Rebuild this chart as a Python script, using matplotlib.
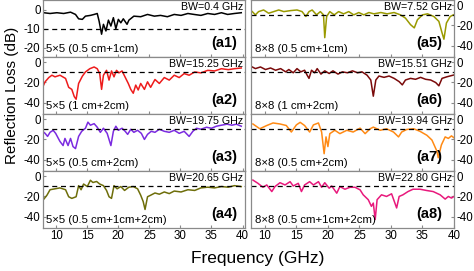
import matplotlib
matplotlib.use('Agg')
import matplotlib.pyplot as plt

plt.rcParams['font.family'] = ['Liberation Sans', 'DejaVu Sans']

# reflection loss curves (frequency in GHz, RL in dB)
a1_freq = [8.0, 9.0, 10.1, 11.2, 12.3, 13.1, 13.6, 14.2, 14.7, 15.5, 16.1, 16.6, 16.9, 17.3, 17.6, 18.0,
           18.4, 18.8, 19.2, 19.6, 20.0, 20.4, 20.8, 21.4, 21.7, 22.5, 23.6, 24.7, 25.8, 26.8, 27.9, 29.0,
           30.1, 31.2, 32.2, 33.3, 34.4, 35.5, 36.6, 37.6, 38.7, 39.8]
a1_rl = [-1.7, -2.1, -1.7, -2.1, -1.4, -2.6, -4.9, -5.2, -3.5, -3.1, -2.6, -2.1, -6.1, -13.0, -7.8, -11.3,
         -5.6, -8.7, -4.3, -10.1, -5.2, -7.0, -4.9, -7.8, -5.6, -3.5, -3.8, -2.6, -3.5, -3.1, -3.8, -2.6,
         -3.1, -2.1, -2.6, -3.1, -2.1, -2.6, -1.7, -2.6, -2.1, -1.7]

a2_freq = [7.8, 8.2, 8.8, 9.3, 9.8, 10.6, 11.5, 12.0, 12.5, 12.9, 13.2, 13.6, 14.2, 14.7, 15.4, 16.1,
           16.6, 17.0, 17.3, 17.6, 18.1, 18.5, 18.9, 19.3, 19.7, 20.1, 20.6, 21.2, 21.6, 22.0, 22.4, 22.8,
           23.2, 23.6, 24.2, 24.7, 25.2, 25.9, 26.6, 27.4, 28.2, 29.0, 29.8, 30.6, 31.4, 32.3, 33.3, 34.4,
           35.5, 36.6, 37.7, 38.7, 39.8]
a2_rl = [-24.8, -19.4, -15.2, -12.9, -14.5, -12.9, -16.1, -24.8, -26.8, -33.9, -36.5, -21.0, -13.9, -9.7,
         -6.5, -4.8, -6.5, -11.3, -26.8, -12.9, -8.1, -17.7, -8.7, -14.5, -8.1, -10.6, -8.7, -16.1, -21.0,
         -26.8, -30.6, -22.6, -27.4, -21.0, -26.8, -19.4, -24.8, -17.1, -21.0, -15.2, -17.7, -12.9, -15.2,
         -11.3, -12.9, -9.7, -10.6, -8.1, -8.7, -6.5, -7.4, -6.5, -5.8]

a3_freq = [7.8, 8.2, 8.6, 9.0, 9.5, 9.9, 10.6, 11.1, 11.4, 11.9, 12.3, 12.7, 13.1, 13.6, 14.1, 14.7, 15.1,
           15.5, 16.1, 16.6, 17.1, 17.6, 18.2, 18.8, 19.2, 19.6, 20.0, 20.6, 21.1, 21.5, 22.0, 22.5, 23.1,
           23.7, 24.2, 24.7, 25.3, 25.9, 26.6, 27.4, 28.2, 29.0, 29.8, 30.6, 31.4, 32.0, 32.6, 33.3, 34.2,
           35.0, 35.8, 36.6, 37.5, 38.3, 39.0, 39.8]
a3_rl = [-12, -14, -17, -13, -11, -14, -22, -26, -19, -26, -19, -27, -29, -17, -12, -9, -3, -6, -4.5, -8,
         -13, -9, -14, -26, -12, -7, -11, -9, -12, -15, -10, -13, -11, -14, -20, -15, -12, -13, -10, -12,
         -13, -11, -14, -12, -17, -12, -9, -10, -8, -9, -7, -6, -5, -6, -5, -7]

a4_freq = [7.9, 8.5, 9.0, 9.8, 10.6, 11.5, 12.0, 12.5, 13.2, 13.6, 14.0, 14.4, 15.0, 15.5, 15.9, 16.5,
           17.0, 17.6, 18.1, 18.5, 18.9, 19.3, 19.8, 20.4, 21.0, 21.7, 22.4, 23.1, 23.6, 24.0, 24.3, 24.7,
           25.2, 25.9, 26.6, 27.4, 28.2, 29.0, 30.1, 31.2, 32.3, 33.3, 34.4, 35.5, 36.6, 37.7, 38.7, 39.8]
a4_rl = [-23.4, -18.8, -13.4, -12.5, -11.6, -13.4, -20.3, -21.9, -20.3, -9.4, -13.4, -7.8, -10.3, -4.1,
         -6.3, -5.3, -7.8, -9.4, -14.1, -20.3, -21.9, -9.4, -12.5, -10.3, -14.1, -10.9, -10.3, -12.5, -18.8,
         -25.0, -32.8, -20.3, -18.8, -16.6, -17.8, -15.6, -17.2, -14.7, -15.6, -13.4, -14.1, -11.6, -10.9,
         -11.6, -10.3, -10.9, -9.4, -10.3]

a5_freq = [8.0, 8.5, 9.0, 9.8, 10.6, 11.4, 12.2, 13.0, 14.1, 15.1, 15.9, 16.5, 17.0, 17.5, 18.2, 18.8,
           19.3, 19.5, 19.8, 20.3, 21.0, 21.7, 22.5, 23.3, 24.1, 24.9, 25.7, 26.5, 27.3, 28.4, 29.4, 30.5,
           31.5, 32.3, 33.1, 33.7, 34.2, 35.0, 35.8, 36.8, 37.6, 38.1, 38.4, 38.8, 39.4, 39.9]
a5_rl = [-6.4, -9.6, -6.4, -4.8, -8.0, -6.4, -4.8, -6.4, -5.4, -4.8, -6.4, -11.2, -6.4, -4.8, -9.6, -6.4,
         -9.6, -32.0, -11.2, -6.4, -9.6, -6.4, -8.6, -6.4, -9.6, -7.3, -9.6, -7.3, -8.6, -7.3, -8.6, -7.3,
         -9.6, -12.8, -19.2, -22.4, -14.4, -9.6, -8.6, -11.2, -16.0, -27.2, -33.5, -17.6, -11.2, -9.6]

a6_freq = [8.0, 8.5, 9.3, 10.1, 10.9, 11.7, 12.5, 13.3, 13.8, 14.5, 15.1, 15.7, 16.3, 16.7, 17.0, 17.4,
           17.9, 18.3, 18.9, 19.5, 20.2, 20.8, 21.6, 22.3, 23.1, 23.9, 24.7, 25.4, 26.2, 26.8, 27.2, 27.6,
           28.1, 28.9, 29.7, 30.5, 31.3, 31.8, 32.3, 33.1, 33.9, 34.7, 35.5, 36.3, 37.1, 37.6, 38.1, 38.9,
           39.9]
a6_rl = [-4.8, -6.4, -4.8, -7.3, -5.8, -8.0, -6.4, -9.6, -7.3, -10.5, -6.4, -9.6, -8.0, -12.8, -16.0, -8.0,
         -10.5, -6.4, -11.8, -8.6, -11.2, -8.6, -11.8, -9.6, -10.5, -8.6, -10.5, -9.6, -12.8, -17.6, -33.5,
         -17.6, -13.7, -15.0, -13.7, -16.0, -19.2, -22.4, -17.6, -16.0, -16.9, -15.0, -16.9, -17.6, -20.1,
         -23.3, -16.0, -14.4, -12.8]

a7_freq = [8.1, 9.2, 10.3, 11.3, 12.4, 13.4, 14.2, 15.0, 15.6, 16.3, 17.1, 17.7, 18.5, 19.0, 19.4, 19.7,
           20.0, 20.3, 21.1, 21.9, 23.0, 24.0, 25.1, 25.9, 26.7, 27.2, 28.3, 29.3, 30.4, 31.2, 31.7, 32.5,
           33.6, 34.6, 35.7, 36.5, 37.3, 37.5, 38.0, 38.6, 39.1, 39.6, 40.0]
a7_rl = [-4.8, -9.5, -6.3, -3.8, -4.8, -6.3, -12.7, -5.7, -3.2, -6.3, -12.7, -5.7, -3.8, -12.7, -34.0,
         -17.5, -27.0, -14.3, -11.0, -14.3, -11.0, -12.7, -8.9, -14.3, -9.5, -7.9, -11.0, -9.5, -12.7, -17.5,
         -12.7, -10.2, -9.5, -12.0, -15.9, -20.6, -31.7, -38.0, -25.4, -17.5, -19.0, -16.5, -18.4]

a8_freq = [8.1, 8.9, 9.7, 10.3, 11.1, 11.6, 12.4, 13.2, 14.0, 14.5, 15.3, 15.8, 16.3, 17.1, 17.7, 18.5,
           19.0, 19.5, 20.2, 20.6, 21.4, 21.9, 22.7, 23.5, 24.3, 25.1, 25.6, 26.4, 26.9, 27.2, 27.5, 27.8,
           28.5, 29.3, 30.1, 30.9, 31.3, 31.9, 32.7, 33.5, 34.6, 35.7, 36.7, 37.8, 38.6, 39.1, 39.6, 40.0]
a8_rl = [-3.9, -7.1, -11.0, -8.7, -15.2, -10.3, -6.5, -8.7, -5.5, -9.7, -7.1, -15.2, -8.7, -5.5, -8.7, -5.5,
         -11.0, -6.5, -11.9, -9.7, -16.8, -10.3, -12.9, -11.0, -11.0, -13.5, -18.4, -23.2, -29.7, -26.5,
         -42.6, -23.2, -18.4, -20.0, -17.4, -31.3, -20.0, -18.4, -15.2, -12.9, -12.9, -14.2, -15.2, -18.4,
         -22.6, -20.0, -21.6, -20.0]

freqs = [a1_freq, a2_freq, a3_freq, a4_freq, a5_freq, a6_freq, a7_freq, a8_freq]
rls = [a1_rl, a2_rl, a3_rl, a4_rl, a5_rl, a6_rl, a7_rl, a8_rl]
colors = ['black', '#ee1c1c', '#7b2be0', '#6e6e0a', '#9a9a00', '#7a0a0a', '#ff8a14', '#e8197c']
labels = ['(a1)', '(a2)', '(a3)', '(a4)', '(a5)', '(a6)', '(a7)', '(a8)']
bw_text = ['BW=0.4 GHz', 'BW=15.25 GHz', 'BW=19.75 GHz', 'BW=20.65 GHz',
           'BW=7.52 GHz', 'BW=15.51 GHz', 'BW=19.94 GHz', 'BW=22.80 GHz']
samples = ['5×5 (0.5 cm+1cm)', '5×5 (1 cm+2cm)', '5×5 (0.5 cm+2cm)', '5×5 (0.5 cm+1cm+2cm)',
           '8×8 (0.5 cm+1cm)', '8×8 (1 cm+2cm)', '8×8 (0.5 cm+2cm)', '8×8 (0.5 cm+1cm+2cm)']
x_ticks = [10, 15, 20, 25, 30, 35, 40]
rl_ticks_a1 = [0, -10, -20]
rl_ticks = [0, -20, -40]

W, H = 474, 271
fig = plt.figure(figsize=(W / 100, H / 100), dpi=100)

for i in range(8):
    col = i // 4
    row = i % 4
    if col == 0:
        left, right = 42.6, 245.0
    else:
        left, right = 251.0, 454.0
    top = 57 * row
    ax = fig.add_axes([left / W, 1 - (top + 57) / H, (right - left) / W, 57 / H])

    ax.plot(freqs[i], rls[i], color=colors[i], lw=1.1)
    ax.axhline(-10, color='black', lw=0.9, ls=(0, (4, 3)))

    ax.set_xlim(7.8, 40.4 if col == 0 else 40.0)
    if i == 0:
        ax.set_ylim(-25, 5)
        ax.set_yticks(rl_ticks_a1)
        ax.set_yticklabels([str(t) for t in rl_ticks_a1])
    else:
        ax.set_ylim(-51, 5)
        ax.set_yticks(rl_ticks)
        ax.set_yticklabels([str(t) for t in rl_ticks])
    ax.set_xticks(x_ticks)

    for s in ax.spines.values():
        s.set_color('#8a8a8a')
        s.set_linewidth(0.9)
    ax.tick_params(direction='in', length=2, color='#8a8a8a', labelsize=8.3, pad=1.5)
    if col == 1:
        ax.yaxis.tick_right()
        ax.tick_params(axis='y', left=False, right=True)
    if row < 3:
        ax.tick_params(axis='x', labelbottom=False)

    # annotations
    ax.text(0.99, 0.885, bw_text[i], transform=ax.transAxes, ha='right', va='center', fontsize=7.7)
    ax.text(0.015 if col == 0 else 0.022, 0.14, samples[i], transform=ax.transAxes,
            ha='left', va='center', fontsize=8.2)
    ax.text(0.96 if col == 0 else 0.94, 0.25, labels[i], transform=ax.transAxes,
            ha='right', va='center', fontsize=10.5, fontweight='bold')

fig.text(12 / W, 1 - 95 / H, 'Reflection Loss (dB)', rotation=90, ha='center', va='center', fontsize=11)
fig.text(258 / W, 1 - 258 / H, 'Frequency (GHz)', ha='center', va='center', fontsize=12.5)

plt.savefig('out.png', dpi=100)
